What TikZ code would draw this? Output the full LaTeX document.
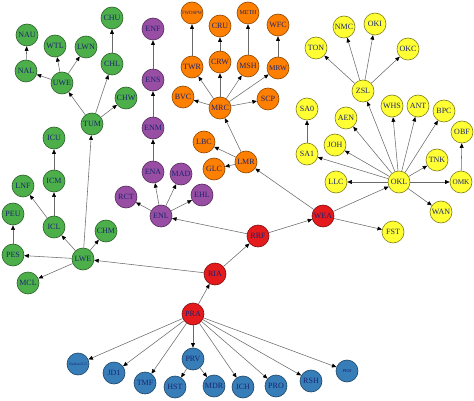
\documentclass[tikz,border=0pt]{standalone}
\usepackage{fontspec}
\setmainfont{Liberation Serif}
\usetikzlibrary{arrows.meta}
\definecolor{sgreen}{HTML}{4DAF4A}
\definecolor{spurple}{HTML}{984EA3}
\definecolor{sorange}{HTML}{FF7F00}
\definecolor{syellow}{HTML}{FFFF33}
\definecolor{sred}{HTML}{E41A1C}
\definecolor{sblue}{HTML}{377EB8}
\definecolor{labelc}{HTML}{1A2470}
\definecolor{edgec}{HTML}{6A6A6A}
\tikzset{
  vtx/.style={circle, minimum size=22pt, inner sep=0pt, line width=0.6pt, text=labelc, font=\fontsize{8}{9}\selectfont},
  gn/.style={vtx, fill=sgreen, draw=sgreen!55!black},
  pn/.style={vtx, fill=spurple, draw=spurple!55!black},
  on/.style={vtx, fill=sorange, draw=sorange!55!black},
  yn/.style={vtx, fill=syellow, draw=syellow!50!black},
  rn/.style={vtx, fill=sred, draw=sred!55!black},
  bn/.style={vtx, fill=sblue, draw=sblue!55!black},
  lnk/.style={draw=edgec, line width=0.55pt, -{Triangle[length=4.5pt,width=3.8pt,color=black]}},
}
\begin{document}
\begin{tikzpicture}[x=1pt,y=-1pt]
\useasboundingbox (0,0) rectangle (474,401);
% green
\node[gn] (NAU) at (27,35) {NAU};
\node[gn] (WTL) at (55,46) {WTL};
\node[gn] (LWN) at (86,47) {LWN};
\node[gn] (CHU) at (112,18) {CHU};
\node[gn] (NAL) at (26,71) {NAL};
\node[gn] (UWE) at (62,83) {UWE};
\node[gn] (CHL) at (112,64) {CHL};
\node[gn] (CHW) at (126,98) {CHW};
\node[gn] (TUM) at (92,124) {TUM};
\node[gn] (ICU) at (54,138) {ICU};
\node[gn] (ICM) at (54,181) {ICM};
\node[gn] (LNF) at (23,186) {LNF};
\node[gn] (PEU) at (13,214) {PEU};
\node[gn] (ICL) at (54,227) {ICL};
\node[gn] (CHM) at (106,231) {CHM};
\node[gn] (PES) at (13,255) {PES};
\node[gn] (LWE) at (83,259) {LWE};
\node[gn] (MCL) at (28,283) {MCL};
% purple
\node[pn] (ENF) at (153,29) {ENF};
\node[pn] (ENS) at (153,80) {ENS};
\node[pn] (ENM) at (153,128) {ENM};
\node[pn] (ENA) at (153,172) {ENA};
\node[pn] (MAD) at (181,174) {MAD};
\node[pn] (RCT) at (126,197) {RCT};
\node[pn] (EHL) at (202,195) {EHL};
\node[pn] (ENL) at (161,216) {ENL};
% orange
\node[on, font=\fontsize{4.8}{5}\selectfont] (TWD) at (192,13) {TWDSPW};
\node[on] (CRU) at (220,26) {CRU};
\node[on, font=\fontsize{6}{7}\selectfont] (METH) at (248,13) {METH};
\node[on] (WFC) at (278,25) {WFC};
\node[on] (TWR) at (192,67) {TWR};
\node[on] (CRW) at (220,62) {CRW};
\node[on] (MSH) at (248,66) {MSH};
\node[on, font=\fontsize{7.2}{8}\selectfont] (MRW) at (278,68) {MRW};
\node[on] (BVC) at (183,97) {BVC};
\node[on] (MRC) at (220,108) {MRC};
\node[on] (SCP) at (268,99) {SCP};
\node[on] (LBC) at (204,142) {LBC};
\node[on] (GLC) at (214,169) {GLC};
\node[on] (LMR) at (246,162) {LMR};
% yellow
\node[yn] (NMC) at (344,27) {NMC};
\node[yn] (OKI) at (375,24) {OKI};
\node[yn] (TON) at (316,48) {TON};
\node[yn] (OKC) at (408,49) {OKC};
\node[yn] (ZSL) at (363,91) {ZSL};
\node[yn] (SA0) at (307,109) {SA0};
\node[yn] (WHS) at (392,106) {WHS};
\node[yn] (ANT) at (418,106) {ANT};
\node[yn] (AEN) at (346,118) {AEN};
\node[yn] (BPC) at (444,111) {BPC};
\node[yn] (OBF) at (462,132) {OBF};
\node[yn] (JOH) at (335,145) {JOH};
\node[yn] (SA1) at (307,154) {SA1};
\node[yn] (TNK) at (437,160) {TNK};
\node[yn] (LLC) at (336,182) {LLC};
\node[yn] (OKL) at (399,182) {OKL};
\node[yn, font=\fontsize{7.2}{8}\selectfont] (OMK) at (461,182) {OMK};
\node[yn] (WAN) at (441,212) {WAN};
\node[yn] (FST) at (393,232) {FST};
% red
\node[rn] (WEA) at (323,216) {WEA};
\node[rn] (RRF) at (258,236) {RRF};
\node[rn] (RIA) at (215,274) {RIA};
\node[rn] (PRA) at (193,314) {PRA};
% blue
\node[bn, font=\fontsize{3.8}{4}\selectfont] (BAI) at (78,364) {Baiken2G3};
\node[bn] (JD1) at (114,373) {JD1};
\node[bn] (TMF) at (145,383) {TMF};
\node[bn] (PRV) at (193,359) {PRV};
\node[bn] (HST) at (175,387) {HST};
\node[bn] (MDR) at (214,386) {MDR};
\node[bn] (ICH) at (243,387) {ICH};
\node[bn] (PRO) at (276,386) {PRO};
\node[bn] (RSH) at (311,381) {RSH};
\node[bn, font=\fontsize{4.5}{5}\selectfont] (PKH) at (347,371) {PKH};
% edges
\foreach \a/\b in {TUM/UWE,TUM/CHL,TUM/CHW,UWE/NAL,UWE/WTL,UWE/LWN,NAL/NAU,CHL/CHU,
  LWE/TUM,LWE/ICL,LWE/CHM,LWE/PES,LWE/MCL,ICL/ICM,ICL/LNF,ICM/ICU,PES/PEU,RIA/LWE,
  RRF/ENL,ENL/RCT,ENL/ENA,ENL/MAD,ENL/EHL,ENA/ENM,ENM/ENS,ENS/ENF,
  WEA/LMR,LMR/LBC,LMR/GLC,LMR/MRC,MRC/BVC,MRC/TWR,MRC/CRW,MRC/MSH,MRC/MRW,MRC/SCP,
  TWR/TWD,CRW/CRU,MSH/METH,MRW/WFC,
  WEA/OKL,WEA/FST,OKL/ZSL,OKL/AEN,OKL/WHS,OKL/ANT,OKL/BPC,OKL/JOH,OKL/SA1,OKL/LLC,
  OKL/TNK,OKL/OMK,OKL/WAN,ZSL/TON,ZSL/NMC,ZSL/OKI,ZSL/OKC,SA1/SA0,OMK/OBF,
  RRF/WEA,RIA/RRF,PRA/RIA,
  PRA/BAI,PRA/JD1,PRA/TMF,PRA/PRV,PRA/ICH,PRA/PRO,PRA/RSH,PRA/PKH,PRV/HST,PRV/MDR}
  \draw[lnk] (\a) -- (\b);
\end{tikzpicture}
\end{document}
